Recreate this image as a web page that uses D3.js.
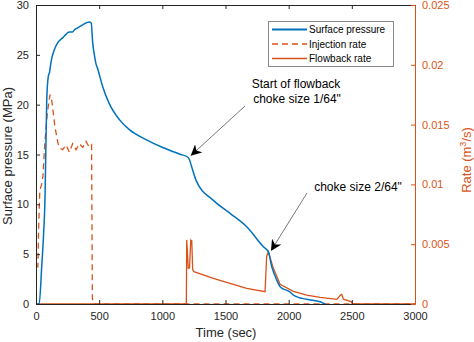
<!DOCTYPE html>
<html><head><meta charset="utf-8">
<script src="https://cdn.jsdelivr.net/npm/d3@7"></script>
<style>body{margin:0;background:#fff}svg{display:block;font-family:Arial,"Liberation Sans",Helvetica,sans-serif}</style>
</head><body>
<script>
// Data
const pressureT = [0,25,45,60,71,85,97,108,119,145,171,211,264,290,303,330,396,422,437,449,462,475,488,528,580,660,739,871,1003,1135,1205,1241,1267,1404,1536,1668,1800,1839,1866,1906,1932,2011,2037,2143,2249,2275,2290];
const pressureP = [0,0,3.7,7,10.4,20.5,22.8,23.3,24.3,25.5,26.2,26.7,27.3,27.3,27.5,27.7,28.2,28.3,28.2,26.2,25,24.1,23.6,21.8,20.1,18.5,17.5,16.5,15.7,15.05,14.7,13.4,12.4,10.4,9.1,7.75,5.75,5.25,3.75,2.4,1.74,1.2,0.9,0.47,0.23,0.07,0];
const injectionT = [0,15,20,30,45,55,70,90,111,125,150,175,195,211,238,264,290,317,343,370,396,422,440,446,455,3000];
const injectionR = [0.0031,0.0031,0.0060,0.0095,0.0100,0.0107,0.0135,0.0160,0.0175,0.0170,0.0148,0.0134,0.0130,0.0129,0.0133,0.0127,0.0134,0.0129,0.0134,0.0131,0.0136,0.0131,0.0133,0.0005,0,0];
const flowT = [0,1190,1193,1198,1205,1215,1225,1233,1240,1250,1404,1536,1668,1813,1826,1839,1879,1932,2037,2143,2249,2381,2410,2420,2433,2494,2507,3000];
const flowR = [0,0,0.00535,0.0045,0.0030,0.0030,0.00535,0.0053,0.0029,0.0027,0.00215,0.00173,0.00131,0.00103,0.0040,0.00437,0.00298,0.00165,0.00105,0.00075,0.00056,0.00039,0.00075,0.0008,0.0004,0.0002,0,0];
const xTicks = [0,500,1000,1500,2000,2500,3000];
const yTicks = [0,5,10,15,20,25,30];
const rTicks = [0,0.005,0.01,0.015,0.02,0.025];
const legendLabels = ["Surface pressure","Injection rate","Flowback rate"];

const W=474,H=342;
const blue="#0072BD", orange="#D95319", axisC="#262626";
const L=36,R=415,T=5,B=304;
const svg=d3.select("body").append("svg").attr("width",W).attr("height",H);
const x=d3.scaleLinear().domain([0,3000]).range([L,R]);
const y=d3.scaleLinear().domain([0,30]).range([B,T]);
const yr=d3.scaleLinear().domain([0,0.025]).range([B,T]);

// lines
const zip=(a,b)=>a.map((v,i)=>[v,b[i]]);
const lp=d3.line().x(d=>x(d[0])).y(d=>y(d[1])).curve(d3.curveMonotoneX);
const lr=d3.line().x(d=>x(d[0])).y(d=>yr(d[1]));
const g=svg.append("g");
g.append("path").attr("d",lr(zip(injectionT,injectionR))).attr("fill","none").attr("stroke",orange).attr("stroke-width",1.3).attr("stroke-dasharray","6,4");
g.append("path").attr("d",lr(zip(flowT,flowR))).attr("fill","none").attr("stroke",orange).attr("stroke-width",1.3);
g.append("path").attr("d",lp(zip(pressureT,pressureP))).attr("fill","none").attr("stroke",blue).attr("stroke-width",1.5);

// axes
const fs=11;
const ff="Arial, Liberation Sans, sans-serif";
const axB=svg.append("g").attr("transform",`translate(0,${B})`).call(d3.axisBottom(x).tickValues(xTicks).tickFormat(d3.format("d")).tickSizeInner(-4).tickSizeOuter(0).tickPadding(8));
axB.select(".domain").attr("stroke",axisC);
axB.selectAll("line").attr("stroke",axisC);
axB.selectAll("text").attr("font-size",fs).attr("fill",axisC).attr("font-family",ff);
const axT=svg.append("g").attr("transform",`translate(0,${T})`).call(d3.axisTop(x).tickValues(xTicks).tickSizeInner(-4).tickSizeOuter(0).tickFormat(""));
axT.select(".domain").attr("stroke",axisC);
axT.selectAll("line").attr("stroke",axisC);
const axL=svg.append("g").attr("transform",`translate(${L},0)`).call(d3.axisLeft(y).tickValues(yTicks).tickSizeInner(-4).tickSizeOuter(0).tickPadding(7));
axL.select(".domain").attr("stroke",axisC);
axL.selectAll("line").attr("stroke",axisC);
axL.selectAll("text").attr("font-size",fs).attr("fill",axisC).attr("font-family",ff);
const axR=svg.append("g").attr("transform",`translate(${R},0)`).call(d3.axisRight(yr).tickValues(rTicks).tickFormat(d=>d===0?"0":String(+d.toFixed(3))).tickSizeInner(-4).tickSizeOuter(0).tickPadding(7));
axR.select(".domain").attr("stroke",orange);
axR.selectAll("line").attr("stroke",orange);
axR.selectAll("text").attr("font-size",fs).attr("fill",orange).attr("font-family",ff);

// axis labels
svg.append("text").attr("x",226).attr("y",337).attr("text-anchor","middle").attr("font-size",13).attr("fill",axisC).text("Time (sec)");
svg.append("text").attr("transform",`translate(12,${156}) rotate(-90)`).attr("text-anchor","middle").attr("font-size",13).attr("fill",axisC).text("Surface pressure (MPa)");
const rl=svg.append("text").attr("transform",`translate(471,${160}) rotate(-90)`).attr("text-anchor","middle").attr("font-size",13).attr("fill",orange);
rl.append("tspan").text("Rate (m");
rl.append("tspan").attr("font-size",9).attr("dy",-5).text("3");
rl.append("tspan").attr("dy",5).text("/s)");

// legend
const lg=svg.append("g");
lg.append("rect").attr("x",268.5).attr("y",21.5).attr("width",125).attr("height",45).attr("fill","#fff").attr("stroke","#888").attr("stroke-width",1);
const styles=[{c:blue,d:null,w:2},{c:orange,d:"6,4",w:1.3},{c:orange,d:null,w:1.5}];
legendLabels.forEach((t,i)=>{
  const yy=29.5+i*14.5;
  lg.append("line").attr("x1",272).attr("x2",307).attr("y1",yy).attr("y2",yy).attr("stroke",styles[i].c).attr("stroke-width",styles[i].w).attr("stroke-dasharray",styles[i].d);
  lg.append("text").attr("x",309).attr("y",yy+3.5).attr("font-size",10).attr("fill","#000").text(t);
});

// annotations
const defs=svg.append("defs");
defs.append("marker").attr("id","ah").attr("viewBox","0 0 10 10").attr("refX",9).attr("refY",5).attr("markerWidth",11).attr("markerHeight",11).attr("markerUnits","userSpaceOnUse").attr("orient","auto")
  .append("path").attr("d","M0,0 L10,5 L0,10 L3,5 Z").attr("fill","#000");
svg.append("line").attr("x1",245).attr("y1",106).attr("x2",191.5).attr("y2",155).attr("stroke","#555").attr("stroke-width",0.8).attr("marker-end","url(#ah)");
svg.append("text").attr("x",296).attr("y",88).attr("text-anchor","middle").attr("font-size",12).attr("fill","#000").text("Start of flowback");
svg.append("text").attr("x",297).attr("y",103).attr("text-anchor","middle").attr("font-size",12).attr("fill","#000").text("choke size 1/64\"");
svg.append("line").attr("x1",307).attr("y1",193).attr("x2",271.5).attr("y2",250).attr("stroke","#555").attr("stroke-width",0.8).attr("marker-end","url(#ah)");
svg.append("text").attr("x",358).attr("y",191).attr("text-anchor","middle").attr("font-size",12).attr("fill","#000").text("choke size 2/64\"");
</script>
</body></html>
